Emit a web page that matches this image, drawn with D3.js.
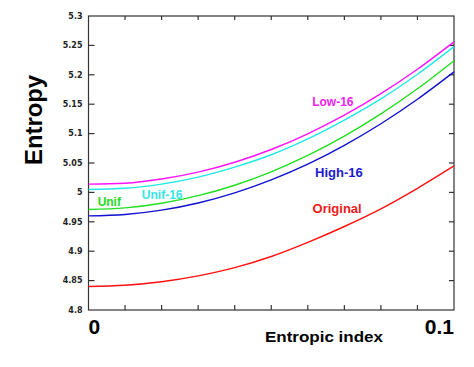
<!DOCTYPE html>
<html>
<head>
<meta charset="utf-8">
<script src="https://cdn.jsdelivr.net/npm/d3@7"></script>
<style>
  html, body { margin: 0; padding: 0; background: #fff; }
  svg { display: block; }
</style>
</head>
<body>
<svg id="chart" width="474" height="367"></svg>
<script>
// entropy vs entropic index, five curves

const xValues   = [0, 0.01, 0.02, 0.03, 0.04, 0.05, 0.06, 0.07, 0.08, 0.09, 0.1];
const original  = [4.840, 4.842, 4.848, 4.858, 4.872, 4.891, 4.915, 4.942, 4.972, 5.007, 5.045];
const low16     = [5.014, 5.0156, 5.0228, 5.0345, 5.0513, 5.073, 5.0997, 5.1313, 5.1679, 5.2095, 5.256];
const unif16    = [5.005, 5.007, 5.014, 5.026, 5.043, 5.064, 5.091, 5.123, 5.159, 5.201, 5.248];
const unif      = [4.971, 4.9736, 4.9816, 4.9944, 5.0122, 5.035, 5.0628, 5.0956, 5.1334, 5.1762, 5.224];
const high16    = [4.960, 4.9625, 4.9698, 4.982, 4.9992, 5.0213, 5.048, 5.080, 5.1168, 5.1585, 5.205];

const yTicks    = [4.8, 4.85, 4.9, 4.95, 5, 5.05, 5.1, 5.15, 5.2, 5.25, 5.3];
const xTicks    = [0, 0.01, 0.02, 0.03, 0.04, 0.05, 0.06, 0.07, 0.08, 0.09, 0.1];
const xLabels   = ['0', '0.1'];

const series = [
  { name: 'Original', values: original, color: '#ff1010' },
  { name: 'High-16',  values: high16,   color: '#1010d0' },
  { name: 'Unif',     values: unif,     color: '#20e020' },
  { name: 'Unif-16',  values: unif16,   color: '#20e8e8' },
  { name: 'Low-16',   values: low16,    color: '#ff10ff' },
];

// label placement (data coords of baseline start) and size
const labels = [
  { name: 'Low-16',   x: 0.0612, y: 5.1474, size: 12, color: '#ee22ee' },
  { name: 'Unif-16',  x: 0.0146, y: 4.9896, size: 12, color: '#33e6e6' },
  { name: 'Unif',     x: 0.0025, y: 4.9769, size: 12, color: '#22dd22' },
  { name: 'High-16',  x: 0.0620, y: 5.0267, size: 13, color: '#1a1ad0' },
  { name: 'Original', x: 0.0613, y: 4.9645, size: 13, color: '#ee1a1a' },
];

const m = { left: 88.5, right: 454, top: 16, bottom: 310 };
const svg = d3.select('#chart');

const x = d3.scaleLinear().domain([0, 0.1]).range([m.left, m.right]);
const y = d3.scaleLinear().domain([4.8, 5.3]).range([m.bottom, m.top]);

const axisColor = '#333';

// frame
svg.append('rect')
  .attr('x', m.left).attr('y', m.top)
  .attr('width', m.right - m.left).attr('height', m.bottom - m.top)
  .attr('fill', 'none').attr('stroke', axisColor).attr('stroke-width', 1.2);

// ticks (inward on all four sides)
const tickG = svg.append('g').attr('stroke', axisColor).attr('stroke-width', 1.2);
yTicks.slice(1, -1).forEach(v => {
  tickG.append('line').attr('x1', m.left).attr('x2', m.left + 6).attr('y1', y(v)).attr('y2', y(v));
  tickG.append('line').attr('x1', m.right).attr('x2', m.right - 5).attr('y1', y(v)).attr('y2', y(v));
});
xTicks.slice(1, -1).forEach(v => {
  tickG.append('line').attr('x1', x(v)).attr('x2', x(v)).attr('y1', m.bottom).attr('y2', m.bottom - 5);
  tickG.append('line').attr('x1', x(v)).attr('x2', x(v)).attr('y1', m.top).attr('y2', m.top + 4);
});

// y tick labels
svg.append('g').selectAll('text')
  .data(yTicks)
  .join('text')
  .attr('x', m.left - 6)
  .attr('y', d => y(d))
  .attr('dy', '0.35em')
  .attr('text-anchor', 'end')
  .attr('font-family', 'DejaVu Sans, Verdana, sans-serif')
  .attr('font-weight', 'bold')
  .attr('font-size', 8)
  .attr('fill', '#222')
  .text(d => d);

// x end labels
svg.append('text')
  .attr('x', x(0)).attr('y', 334)
  .attr('font-family', 'Liberation Sans, Arial, sans-serif')
  .attr('font-weight', 'bold').attr('font-size', 21)
  .text(xLabels[0]);
svg.append('text')
  .attr('x', x(0.1)).attr('y', 334)
  .attr('text-anchor', 'end')
  .attr('font-family', 'Liberation Sans, Arial, sans-serif')
  .attr('font-weight', 'bold').attr('font-size', 21)
  .text(xLabels[1]);

// axis titles
svg.append('text')
  .attr('x', 265).attr('y', 342)
  .attr('font-family', 'Liberation Sans, Arial, sans-serif')
  .attr('font-weight', 'bold').attr('font-size', 15)
  .attr('textLength', 118).attr('lengthAdjust', 'spacingAndGlyphs')
  .text('Entropic index');

svg.append('text')
  .attr('transform', 'translate(41.5,120) rotate(-90)')
  .attr('text-anchor', 'middle')
  .attr('font-family', 'Liberation Sans, Arial, sans-serif')
  .attr('font-weight', 'bold').attr('font-size', 23)
  .attr('textLength', 90).attr('lengthAdjust', 'spacingAndGlyphs')
  .text('Entropy');

// curves
const line = d3.line()
  .x((d, i) => x(xValues[i]))
  .y(d => y(d))
  .curve(d3.curveMonotoneX);

svg.append('g').selectAll('path')
  .data(series)
  .join('path')
  .attr('fill', 'none')
  .attr('stroke', d => d.color)
  .attr('stroke-width', 1.4)
  .attr('d', d => line(d.values));

// inline labels
svg.append('g').selectAll('text')
  .data(labels)
  .join('text')
  .attr('x', d => x(d.x))
  .attr('y', d => y(d.y))
  .attr('font-family', 'Liberation Sans, Arial, sans-serif')
  .attr('font-weight', 'bold')
  .attr('font-size', d => d.size)
  .attr('fill', d => d.color)
  .text(d => d.name);
</script>
</body>
</html>
